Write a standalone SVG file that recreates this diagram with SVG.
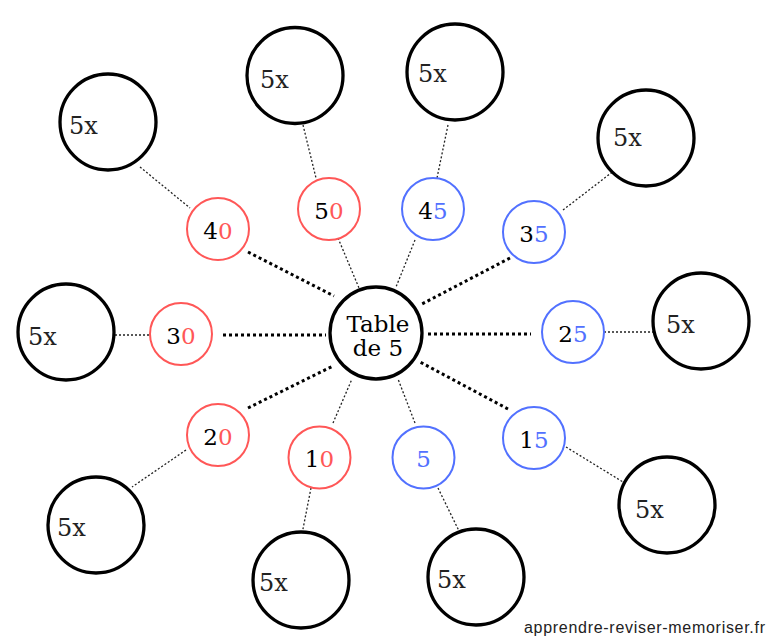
<svg xmlns="http://www.w3.org/2000/svg" width="768" height="644" viewBox="0 0 768 644">
<style>
.big{fill:#fff;stroke:#000;stroke-width:3.3}
.red{fill:#fff;stroke:#ff5757;stroke-width:2}
.blue{fill:#fff;stroke:#5271ff;stroke-width:2}
.thick{stroke:#000;stroke-width:3;stroke-dasharray:3 3;fill:none}
.thin{stroke:#222;stroke-width:1.3;stroke-dasharray:2 2;fill:none}
.t{font-family:"DejaVu Serif","Liberation Serif",serif;font-size:24px;fill:#222}
.n{font-family:"DejaVu Serif","Liberation Serif",serif;font-size:23px;fill:#000;text-anchor:middle}
.c{font-family:"DejaVu Serif","Liberation Serif",serif;font-size:23px;fill:#000;text-anchor:middle}
.r{fill:#ff5757}
.b{fill:#5271ff}
</style>
<rect width="768" height="644" fill="#fff"/>
<g id="connectors">
<line class="thick" x1="248" y1="252" x2="334" y2="296"/>
<line class="thick" x1="223" y1="335" x2="326" y2="335"/>
<line class="thick" x1="248" y1="408" x2="333" y2="366"/>
<line class="thick" x1="510" y1="258" x2="420" y2="305"/>
<line class="thick" x1="428" y1="334" x2="531" y2="334"/>
<line class="thick" x1="508" y1="409" x2="420" y2="362"/>
<line class="thin" x1="338" y1="238" x2="359" y2="288"/>
<line class="thin" x1="415" y1="240" x2="396" y2="287"/>
<line class="thin" x1="333" y1="423" x2="352" y2="379"/>
<line class="thin" x1="415" y1="423" x2="398" y2="379"/>
<line class="thin" x1="140" y1="167" x2="190" y2="208"/>
<line class="thin" x1="303" y1="125" x2="316" y2="178"/>
<line class="thin" x1="448" y1="125" x2="437" y2="178"/>
<line class="thin" x1="563" y1="210" x2="615" y2="170"/>
<line class="thin" x1="115" y1="335" x2="150" y2="335"/>
<line class="thin" x1="604" y1="332" x2="653" y2="332"/>
<line class="thin" x1="186" y1="450" x2="132" y2="487"/>
<line class="thin" x1="311" y1="488" x2="302" y2="534"/>
<line class="thin" x1="438" y1="488" x2="460" y2="533"/>
<line class="thin" x1="566" y1="447" x2="623" y2="482"/>
</g>
<g id="center"><circle class="big" cx="376" cy="333" r="46"/>
<text class="c" x="378" y="332">Table</text><text class="c" x="378" y="356">de 5</text></g>
<g id="n40"><circle class="red" cx="218" cy="229" r="31"/><text class="n" x="218" y="239">4<tspan class="r">0</tspan></text></g>
<g id="n50"><circle class="red" cx="329" cy="209" r="31"/><text class="n" x="329" y="219">5<tspan class="r">0</tspan></text></g>
<g id="n45"><circle class="blue" cx="433" cy="209" r="31"/><text class="n" x="433" y="219">4<tspan class="b">5</tspan></text></g>
<g id="n35"><circle class="blue" cx="534" cy="232" r="31"/><text class="n" x="534" y="242">3<tspan class="b">5</tspan></text></g>
<g id="n30"><circle class="red" cx="181" cy="334" r="31"/><text class="n" x="181" y="344">3<tspan class="r">0</tspan></text></g>
<g id="n25"><circle class="blue" cx="573" cy="332" r="31"/><text class="n" x="573" y="342">2<tspan class="b">5</tspan></text></g>
<g id="n20"><circle class="red" cx="218" cy="435" r="31"/><text class="n" x="218" y="445">2<tspan class="r">0</tspan></text></g>
<g id="n10"><circle class="red" cx="319.5" cy="457.5" r="31"/><text class="n" x="319.5" y="467">1<tspan class="r">0</tspan></text></g>
<g id="n5"><circle class="blue" cx="423.5" cy="457.5" r="31"/><text class="n b" x="423.5" y="467">5</text></g>
<g id="n15"><circle class="blue" cx="534" cy="438" r="31"/><text class="n" x="534" y="448">1<tspan class="b">5</tspan></text></g>
<g id="b1"><circle class="big" cx="108" cy="122" r="48"/><text class="t" x="69" y="134">5x</text></g>
<g id="b2"><circle class="big" cx="295" cy="75.5" r="48"/><text class="t" x="260" y="88">5x</text></g>
<g id="b3"><circle class="big" cx="455" cy="72" r="48"/><text class="t" x="418" y="82">5x</text></g>
<g id="b4"><circle class="big" cx="646" cy="138" r="48"/><text class="t" x="613" y="146">5x</text></g>
<g id="b5"><circle class="big" cx="66" cy="332" r="48"/><text class="t" x="28" y="345">5x</text></g>
<g id="b6"><circle class="big" cx="701" cy="321" r="48"/><text class="t" x="666" y="333">5x</text></g>
<g id="b7"><circle class="big" cx="96" cy="525" r="48"/><text class="t" x="57" y="536">5x</text></g>
<g id="b8"><circle class="big" cx="301" cy="580" r="48"/><text class="t" x="259" y="591">5x</text></g>
<g id="b9"><circle class="big" cx="476" cy="577" r="48"/><text class="t" x="437" y="588">5x</text></g>
<g id="b10"><circle class="big" cx="667" cy="505" r="48"/><text class="t" x="635" y="518">5x</text></g>
<text x="524" y="633" font-family="'Liberation Sans',Arial,sans-serif" font-size="16" fill="#222" textLength="241">apprendre-reviser-memoriser.fr</text>
</svg>
